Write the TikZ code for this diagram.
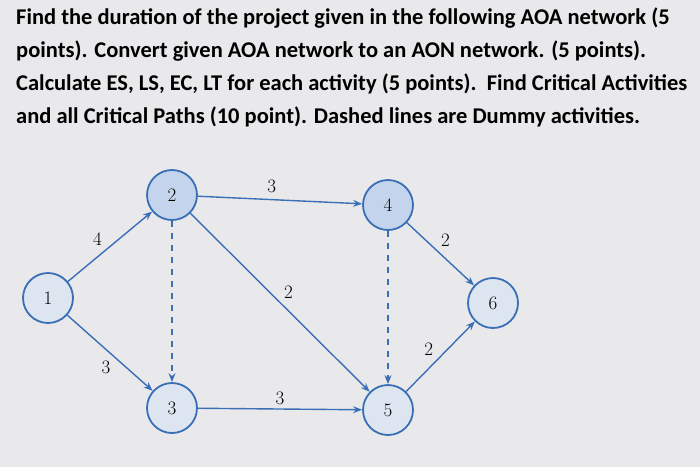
\documentclass[tikz,border=0pt]{standalone}
\usepackage{fontspec}
\newfontfamily\hdr{Carlito}
\usetikzlibrary{arrows.meta}
\definecolor{bg}{HTML}{E9E9EC}
\definecolor{edge}{HTML}{3A6FB5}
\definecolor{lite}{HTML}{DDE5F1}
\definecolor{dark}{HTML}{C3D4EC}
\tikzset{
  ev/.style={circle,draw=edge,line width=1.8pt,fill=lite,minimum size=50pt,inner sep=0pt,font=\fontsize{19}{19}\selectfont},
  evd/.style={ev,fill=dark},
  act/.style={draw=edge,line width=1.4pt,-{Stealth[length=9pt,width=7pt]}},
  dum/.style={act,dashed,dash pattern=on 6pt off 6pt},
  lbl/.style={font=\fontsize{19}{19}\selectfont}
}
\begin{document}
\begin{tikzpicture}[x=1pt,y=-1pt]
\fill[bg] (0,0) rectangle (700,467);
\useasboundingbox (0,0) rectangle (700,467);
\node[anchor=north west,align=left,font=\hdr\bfseries\fontsize{22.5}{33}\selectfont,inner sep=0pt] (t) at (16,8)
{Find the duration of the project given in the following AOA network (5\\
points). Convert given AOA network to an AON network. (5 points).\\
Calculate ES, LS, EC, LT for each activity (5 points).\ \ Find Critical Activities\\
and all Critical Paths (10 point). Dashed lines are Dummy activities.};
\node[ev] (n1) at (48,298) {1};
\node[evd] (n2) at (172,195) {2};
\node[ev] (n3) at (172,408) {3};
\node[evd] (n4) at (388,205) {4};
\node[ev] (n5) at (388,410) {5};
\node[ev] (n6) at (493,303) {6};
\draw[act] (n1) -- node[lbl,pos=0.45,above left=0pt] {4} (n2);
\draw[act] (n1) -- node[lbl,pos=0.55,below left=0pt] {3} (n3);
\draw[act] (n2) -- node[lbl,pos=0.45,above=3pt] {3} (n4);
\draw[act] (n2) -- node[lbl,pos=0.5,above right=0pt] {2} (n5);
\draw[dum] (n2) -- (n3);
\draw[dum] (n4) -- (n5);
\draw[act] (n4) -- node[lbl,pos=0.45,above right=0pt] {2} (n6);
\draw[act] (n5) -- node[lbl,pos=0.45,above left=0pt] {2} (n6);
\draw[act] (n3) -- node[lbl,pos=0.5,above=0pt] {3} (n5);
\end{tikzpicture}
\end{document}
